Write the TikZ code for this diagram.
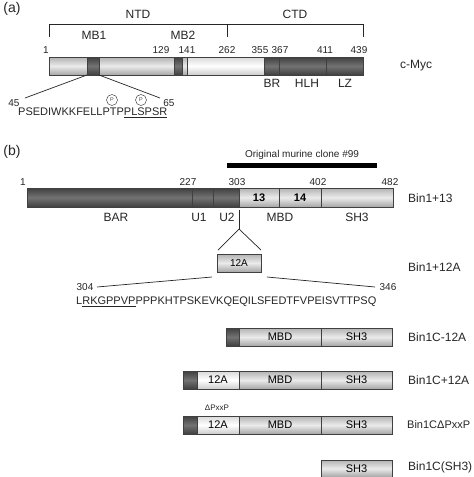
\documentclass[tikz,border=0pt]{standalone}
\usepackage{fontspec}
\setmainfont{Liberation Sans}
\newcommand\seg[7]{\node[#6, rectangle, inner sep=0pt, outer sep=0pt, minimum width={(#3-#2)*1pt}, minimum height={(#5-#4)*1pt}, anchor=north west] (#1) at (#2,#4) {#7};}
\tikzset{
  lite/.style={draw=black!75, line width=0.6pt, top color=black!30, bottom color=black!35, middle color=black!8},
  pale/.style={draw=black!75, line width=0.6pt, top color=black!15, bottom color=black!20, middle color=white},
  dark/.style={draw=black!75, line width=0.6pt, top color=black!75, bottom color=black!75, middle color=black!55},
  lbl/.style={font=\fontsize{12}{14}\selectfont, text=black!85, inner sep=0pt},
  num/.style={font=\fontsize{10}{12}\selectfont, text=black!85, inner sep=0pt},
  seqt/.style={font=\fontsize{11}{13}\selectfont, text=black!85, inner sep=0pt},
  conn/.style={draw=black!85, line width=0.7pt},
  circp/.style={draw=black!85, circle, minimum size=11pt, inner sep=0pt, font=\fontsize{5.5}{6}\selectfont, text=black!70},
}
\begin{document}
\begin{tikzpicture}[x=1pt,y=-1pt]
\useasboundingbox (0,0) rectangle (474,477);
\fill[white] (0,0) rectangle (474,477);
% ---------- panel (a)
\node[lbl, font=\fontsize{14}{16}\selectfont] (pa) at (12,9) {(a)};
\node[lbl] (ntd) at (138,14) {NTD};
\node[lbl] (ctd) at (295,14) {CTD};
\coordinate (b1) at (49,37); \coordinate (b2) at (49,24);
\coordinate (b3) at (363,24); \coordinate (b4) at (363,37);
\coordinate (b5) at (227,24); \coordinate (b6) at (227,37);
\draw[conn] (b1) -- (b2) -- (b3) -- (b4);
\draw[conn] (b5) -- (b6);
\node[lbl] (mb1l) at (94,35) {MB1};
\node[lbl] (mb2l) at (183,35) {MB2};
\node[num] (n1) at (46,50) {1};
\node[num] (n129) at (161,50) {129};
\node[num] (n141) at (187,50) {141};
\node[num] (n262) at (227,50) {262};
\node[num] (n355) at (260,50) {355};
\node[num] (n367) at (280,50) {367};
\node[num] (n411) at (325,50) {411};
\node[num] (n439) at (359,50) {439};
\seg{a1}{49}{87}{57}{75}{lite}{}
\seg{mb1}{87}{99}{57}{75}{dark}{}
\seg{a2}{99}{174}{57}{75}{lite}{}
\seg{mb2}{174}{182}{57}{75}{dark}{}
\seg{a3}{182}{187}{57}{75}{lite}{}
\seg{a4}{187}{264}{57}{75}{pale}{}
\seg{br}{264}{279}{57}{75}{dark}{}
\seg{hlh}{279}{326}{57}{75}{dark}{}
\seg{lz}{326}{363}{57}{75}{dark}{}
\node[lbl] (brl) at (272,83) {BR};
\node[lbl] (hlhl) at (307,83) {HLH};
\node[lbl] (lzl) at (345,83) {LZ};
\node[lbl, anchor=west] (cmyc) at (400,66) {c-Myc};
\coordinate (s45) at (25,98);
\coordinate (s65) at (160,98);
\draw[conn] (mb1.south west) -- (s45);
\draw[conn] (mb1.south east) -- (s65);
\node[num] (n45) at (14,103) {45};
\node[num] (n65) at (169,103) {65};
\node[seqt, anchor=west] (seqa) at (18,113) {PSEDIWKKFELLPTP\underline{PLSPSR}};
\node[circp] (p1) at (112,100) {P};
\node[circp] (p2) at (141,100) {P};
% ---------- panel (b)
\node[lbl, font=\fontsize{14}{16}\selectfont] (pb) at (12,152) {(b)};
\node[lbl, font=\fontsize{10}{12}\selectfont] (orig) at (302,155) {Original murine clone \#99};
\fill[black] (227,163) rectangle (377,168);
\node[num] (m1) at (23,182) {1};
\node[num] (m227) at (188,182) {227};
\node[num] (m303) at (237,182) {303};
\node[num] (m402) at (318,182) {402};
\node[num] (m482) at (390,182) {482};
\seg{bar}{27}{192}{188}{207}{dark}{}
\seg{u1}{192}{213}{188}{207}{dark}{}
\seg{u2}{213}{239}{188}{207}{dark}{}
\seg{e13}{239}{279}{188}{207}{lite}{\fontsize{11}{13}\selectfont\bfseries 13}
\seg{e14}{279}{321}{188}{207}{lite}{\fontsize{11}{13}\selectfont\bfseries 14}
\seg{sh3}{321}{393}{188}{207}{lite}{}
\node[lbl] (barl) at (116,217) {BAR};
\node[lbl] (u1l) at (199,217) {U1};
\node[lbl] (u2l) at (227,217) {U2};
\node[lbl] (mbdl) at (280,217) {MBD};
\node[lbl] (sh3l) at (357,217) {SH3};
\node[lbl, anchor=west] (lb13) at (408,198) {Bin1+13};
\coordinate (v1) at (239,210);
\coordinate (v2) at (239,229);
\coordinate (v3) at (218,250);
\coordinate (v4) at (261,250);
\draw[conn] (v1) -- (v2);
\draw[conn] (v3) -- (v2) -- (v4);
\seg{x12}{217}{261}{254}{272}{lite}{\fontsize{10}{12}\selectfont 12A}
\node[lbl, anchor=west] (lb12) at (408,267) {Bin1+12A};
\coordinate (w1) at (212,277);
\coordinate (w2) at (97,287);
\coordinate (w3) at (267,277);
\coordinate (w4) at (375,287);
\draw[conn] (w1) -- (w2);
\draw[conn] (w3) -- (w4);
\node[num] (n304) at (85,287) {304};
\node[num] (n346) at (388,287) {346};
\node[seqt, anchor=west] (seqb) at (76,302) {L\underline{RKGPPVP}PPPKHTPSKEVKQEQILSFEDTFVPEISVTTPSQ};
% constructs
\seg{c1d}{226}{239}{328}{346}{dark}{}
\seg{c1m}{239}{321}{328}{346}{lite}{\fontsize{11}{13}\selectfont MBD}
\seg{c1s}{321}{392}{328}{346}{lite}{\fontsize{11}{13}\selectfont SH3}
\node[lbl, anchor=west] (lc1) at (408,337) {Bin1C-12A};
\seg{c2d}{183}{197}{371}{389}{dark}{}
\seg{c2a}{197}{239}{371}{389}{pale}{\fontsize{11}{13}\selectfont 12A}
\seg{c2m}{239}{321}{371}{389}{lite}{\fontsize{11}{13}\selectfont MBD}
\seg{c2s}{321}{392}{371}{389}{lite}{\fontsize{11}{13}\selectfont SH3}
\node[lbl, anchor=west] (lc2) at (408,380) {Bin1C+12A};
\node[lbl, font=\fontsize{8}{9}\selectfont] (dpl) at (217,408) {ΔPxxP};
\seg{c3d}{183}{197}{416}{434}{dark}{}
\seg{c3a}{197}{239}{416}{434}{pale}{\fontsize{11}{13}\selectfont 12A}
\seg{c3m}{239}{321}{416}{434}{lite}{\fontsize{11}{13}\selectfont MBD}
\seg{c3s}{321}{392}{416}{434}{lite}{\fontsize{11}{13}\selectfont SH3}
\node[lbl, anchor=west, font=\fontsize{11}{13}\selectfont] (lc3) at (407,425) {Bin1CΔPxxP};
\seg{c4s}{321}{392}{460}{477}{lite}{\fontsize{11}{13}\selectfont SH3}
\node[lbl, anchor=west] (lc4) at (408,467) {Bin1C(SH3)};
\end{tikzpicture}
\end{document}
